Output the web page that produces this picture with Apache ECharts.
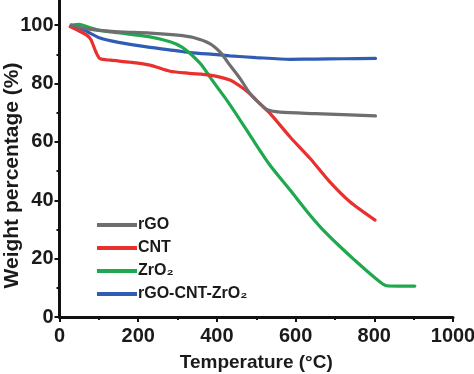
<!DOCTYPE html>
<html>
<head>
<meta charset="utf-8">
<script src="https://cdn.jsdelivr.net/npm/echarts@6/dist/echarts.min.js"></script>
<style>
  html, body { margin: 0; padding: 0; background: #fff; }
  #chart { width: 474px; height: 374px; }
</style>
</head>
<body>
<div id="chart"></div>
<script>
// TGA curves: [temperature °C, weight %]
const rGO = [[30,100],[60,99],[100,98.2],[150,97.7],[230,97.3],[300,96.6],[340,95.8],[382,93.7],[410,90.5],[433,86.3],[460,81.5],[484,76.6],[510,73],[530,70.9],[560,70.2],[650,69.7],[803,68.9]];
const CNT = [[27,99.5],[50,98],[70,96.5],[80,95],[92,91],[103,88.5],[130,88],[180,87.3],[230,86.3],[281,84.2],[330,83.5],[382,82.9],[433,81.2],[460,79],[484,76.5],[510,73],[535,69.8],[586,61.7],[637,54.3],[687,46.3],[738,39.5],[802,33.2]];
const ZrO2 = [[30,100],[50,100.3],[80,99],[103,98.2],[150,97.4],[230,96],[281,94.3],[310,92.6],[332,90.3],[360,86.5],[382,82.3],[405,78],[425,74.3],[459,67.5],[484,62.3],[535,52],[586,43.5],[630,36],[666,30.4],[710,24.5],[750,19.5],[800,13.6],[831,10.7],[860,10.6],[903,10.6]];
const hybrid = [[30,100],[60,98.5],[103,95.6],[150,94.1],[230,92.4],[300,91.2],[332,90.6],[400,89.9],[433,89.5],[500,88.9],[586,88.3],[650,88.4],[720,88.5],[803,88.6]];

const names = ['rGO', 'CNT', 'ZrO₂', 'rGO-CNT-ZrO₂'];
const colors = ['#6e6e70', '#e8302e', '#20a84e', '#2e5db3'];
const curves = [rGO, CNT, ZrO2, hybrid];

const xTicks = { min: 0, max: 1000, interval: 200 };
const yTicks = { min: 0, max: 110, interval: 20 };

const font = '"Liberation Sans", Arial, sans-serif';

let myChart = echarts.init(document.getElementById('chart'));
let option = {
  animation: false,
  grid: { left: 59.5, right: 21, top: -4, bottom: 57, outerBoundsMode: 'none', containLabel: false },
  legend: {
    orient: 'vertical',
    left: 97,
    top: 217,
    padding: 0,
    itemWidth: 40,
    itemHeight: 4,
    itemGap: 7,
    icon: 'rect',
    textStyle: { fontFamily: font, fontWeight: 'bold', fontSize: 16, color: '#1a1a1a', padding: [0, 0, 0, -4] },
    data: names
  },
  xAxis: {
    type: 'value',
    min: xTicks.min, max: xTicks.max, interval: xTicks.interval,
    name: 'Temperature (°C)',
    nameLocation: 'middle',
    nameGap: 36,
    nameMoveOverlap: false,
    nameTextStyle: { fontFamily: font, fontWeight: 'bold', fontSize: 19, color: '#1a1a1a' },
    axisLine: { onZero: false, lineStyle: { color: '#111', width: 3 } },
    axisTick: { length: 5, lineStyle: { color: '#111', width: 2 } },
    minorTick: { show: true, splitNumber: 2, length: 3, lineStyle: { color: '#111', width: 2 } },
    axisLabel: { fontFamily: font, fontWeight: 'bold', fontSize: 20, color: '#1a1a1a', margin: 9, formatter: v => String(v) },
    splitLine: { show: false }
  },
  yAxis: {
    type: 'value',
    min: yTicks.min, max: yTicks.max, interval: yTicks.interval,
    name: 'Weight percentage (%)',
    nameLocation: 'middle',
    nameGap: 37,
    nameMoveOverlap: false,
    nameTextStyle: { fontFamily: font, fontWeight: 'bold', fontSize: 21, color: '#1a1a1a', padding: [0, 38, 0, 0] },
    axisLine: { show: true, lineStyle: { color: '#111', width: 3 } },
    axisTick: { length: 5, lineStyle: { color: '#111', width: 2 } },
    minorTick: { show: true, splitNumber: 2, length: 3, lineStyle: { color: '#111', width: 2 } },
    axisLabel: { fontFamily: font, fontWeight: 'bold', fontSize: 20, color: '#1a1a1a', margin: 6, showMaxLabel: false },
    splitLine: { show: false }
  },
  series: curves.map((d, i) => ({
    name: names[i],
    type: 'line',
    data: d,
    smooth: 0.25,
    showSymbol: false,
    lineStyle: { color: colors[i], width: 3.2, cap: 'round' },
    itemStyle: { color: colors[i] },
    z: 10 - i
  }))
};
myChart.setOption(option);
</script>
</body>
</html>
